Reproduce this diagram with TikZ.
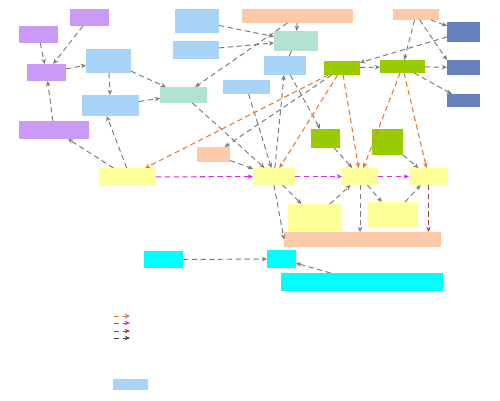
\documentclass[tikz,border=0pt]{standalone}
\usepackage{tikz}
\usetikzlibrary{arrows.meta}
\definecolor{lilac}{HTML}{C99AF6}
\definecolor{sky}{HTML}{A9D3F7}
\definecolor{mint}{HTML}{B3E3D0}
\definecolor{peach}{HTML}{FBCAA8}
\definecolor{navy}{HTML}{6581BD}
\definecolor{lime}{HTML}{99CC00}
\definecolor{lemon}{HTML}{FFFF99}
\definecolor{aqua}{HTML}{00FFFF}
\definecolor{flow}{HTML}{E8772E}
\definecolor{seq}{HTML}{D62ED6}
\definecolor{rust}{HTML}{A8403A}
\definecolor{link}{HTML}{7A7A7A}

\begin{document}
\begin{tikzpicture}[x=0.02cm, y=-0.02cm, >={Stealth[length=3pt,width=2.6pt]},
  every node/.style={inner sep=0pt, outer sep=0pt},
  dep/.style={->, link, line width=0.55pt, dash pattern=on 3pt off 2pt},
  feed/.style={->, flow, line width=0.6pt, dash pattern=on 3pt off 2pt},
  order/.style={->, seq, line width=0.6pt, dash pattern=on 3pt off 2pt}]
\useasboundingbox (0,0) rectangle (500,400);
% purple group
\node[fill=lilac, minimum width=0.78cm, minimum height=0.34cm] (pu1) at (89.5, 17.5) {};
\node[fill=lilac, minimum width=0.78cm, minimum height=0.34cm] (pu2) at (38.5, 34.5) {};
\node[fill=lilac, minimum width=0.78cm, minimum height=0.34cm] (pu3) at (46.5, 72.5) {};
\node[fill=lilac, minimum width=1.40cm, minimum height=0.36cm] (pu4) at (54, 130) {};
% blue group
\node[fill=sky, minimum width=0.90cm, minimum height=0.48cm] (bl1) at (108.5, 61) {};
\node[fill=sky, minimum width=1.14cm, minimum height=0.42cm] (bl2) at (110.5, 105.5) {};
\node[fill=sky, minimum width=0.88cm, minimum height=0.48cm] (bl3) at (197, 21) {};
\node[fill=sky, minimum width=0.92cm, minimum height=0.36cm] (bl4) at (196, 50) {};
\node[fill=sky, minimum width=0.94cm, minimum height=0.28cm] (bl5) at (246.5, 87) {};
\node[fill=sky, minimum width=0.84cm, minimum height=0.38cm] (bl6) at (285, 65.5) {};
\node[fill=sky, minimum width=0.70cm, minimum height=0.22cm] (bl7) at (130.5, 384.5) {};
\node[fill=mint, minimum width=0.94cm, minimum height=0.32cm] (mi1) at (183.5, 95) {};
\node[fill=mint, minimum width=0.88cm, minimum height=0.40cm] (mi2) at (296, 41) {};
% peach
\node[fill=peach, minimum width=0.66cm, minimum height=0.30cm] (pe1) at (213.5, 154.5) {};
\node[fill=peach, minimum width=2.22cm, minimum height=0.28cm] (pe2) at (297.5, 16) {};
\node[fill=peach, minimum width=0.92cm, minimum height=0.22cm] (pe3) at (416, 14.5) {};
\node[fill=peach, minimum width=3.14cm, minimum height=0.30cm] (pe4) at (362.5, 239.5) {};
% right side
\node[fill=navy, minimum width=0.66cm, minimum height=0.40cm] (db1) at (463.5, 32) {};
\node[fill=navy, minimum width=0.66cm, minimum height=0.30cm] (db2) at (463.5, 67.5) {};
\node[fill=navy, minimum width=0.66cm, minimum height=0.26cm] (db3) at (463.5, 100.5) {};
\node[fill=lime, minimum width=0.72cm, minimum height=0.28cm] (li1) at (342, 68) {};
\node[fill=lime, minimum width=0.90cm, minimum height=0.26cm] (li2) at (402.5, 66.5) {};
\node[fill=lime, minimum width=0.58cm, minimum height=0.38cm] (li3) at (325.5, 138.5) {};
\node[fill=lime, minimum width=0.62cm, minimum height=0.52cm] (li4) at (387.5, 142) {};
% yellow row
\node[fill=lemon, minimum width=1.14cm, minimum height=0.36cm] (ye1) at (127.5, 177) {};
\node[fill=lemon, minimum width=0.84cm, minimum height=0.34cm] (ye2) at (274, 176.5) {};
\node[fill=lemon, minimum width=0.72cm, minimum height=0.34cm] (ye3) at (360, 176.5) {};
\node[fill=lemon, minimum width=0.78cm, minimum height=0.34cm] (ye4) at (428.5, 176.5) {};
\node[fill=lemon, minimum width=1.08cm, minimum height=0.54cm] (ye5) at (315, 217.5) {};
\node[fill=lemon, minimum width=1.00cm, minimum height=0.52cm] (ye6) at (393, 215) {};
% cyan
\node[fill=aqua, minimum width=0.58cm, minimum height=0.36cm] (cy1) at (281.5, 259) {};
\node[fill=aqua, minimum width=3.24cm, minimum height=0.36cm] (cy2) at (362, 282) {};
\node[fill=aqua, minimum width=0.78cm, minimum height=0.34cm] (cy3) at (163.5, 259.5) {};

\draw[dep] (pu2) -- (pu3);
\draw[dep] (pu1) -- (pu3);
\draw[dep] (pu4) -- (pu3);
\draw[dep] (pu3) -- (bl1);
\draw[dep] (bl1) -- (bl2);
\draw[dep] (bl1) -- (mi1);
\draw[dep] (bl2) -- (mi1);
\draw[dep] (ye1) -- (pu4);
\draw[dep] (ye1.95) -- (bl2.250);
\draw[dep] (bl3) -- (mi2);
\draw[dep] (bl4) -- (mi2);
\draw[dep] (pe2) -- (mi2);
\draw[dep] (pe2) -- (mi1);
\draw[link, line width=0.55pt] (mi2) -- (bl6);
\draw[dep] (mi1) -- (ye2);
\draw[dep] (bl5) -- (ye2);
\draw[dep] (pe1) -- (ye2);
\draw[dep] (ye2) -- (bl6);
\draw[dep] (bl6) -- (li3);
\draw[dep] (li1) -- (pe1);
\draw[dep] (li1) -- (li2);
\draw[dep] (db1) -- (li1);
\draw[dep] (li2) -- (db2);
\draw[dep] (li2) -- (db3);
\draw[dep] (pe3) -- (li2);
\draw[dep] (pe3) -- (db2.north west);
\draw[dep] (pe3) -- (db1);
\draw[dep] (li3) -- (ye3);
\draw[dep] (li4) -- (ye4);
\draw[dep] (ye2) -- (ye5);
\draw[dep] (ye5) -- (ye3);
\draw[dep] (ye3) -- (ye6);
\draw[dep] (ye6) -- (ye4);
\draw[dep] (ye2.south) -- (pe4.west);
\draw[dep] (ye3.south) -- (ye3.south |- pe4.north);
\draw[dep, rust] (ye4.south) -- (ye4.south |- pe4.north);
\draw[dep] (cy3) -- (cy1);
\draw[dep] (cy2) -- (cy1);
\draw[feed] (li1) -- (ye1);
\draw[feed] (li1) -- (ye2);
\draw[feed] (li1) -- (ye3);
\draw[feed] (li2) -- (ye3);
\draw[feed] (li2) -- (ye4);
\draw[order] (ye1) -- (ye2);
\draw[order] (ye2) -- (ye3);
\draw[order] (ye3) -- (ye4);
% key
\foreach \i/\y/\c in {1/316/flow, 2/323/seq, 3/331/rust, 4/338/black!75} {
  \coordinate (key\i a) at (114, \y);
  \coordinate (key\i b) at (130, \y);
  \draw[dep, \c] (key\i a) -- (key\i b);
}
\end{tikzpicture}
\end{document}
